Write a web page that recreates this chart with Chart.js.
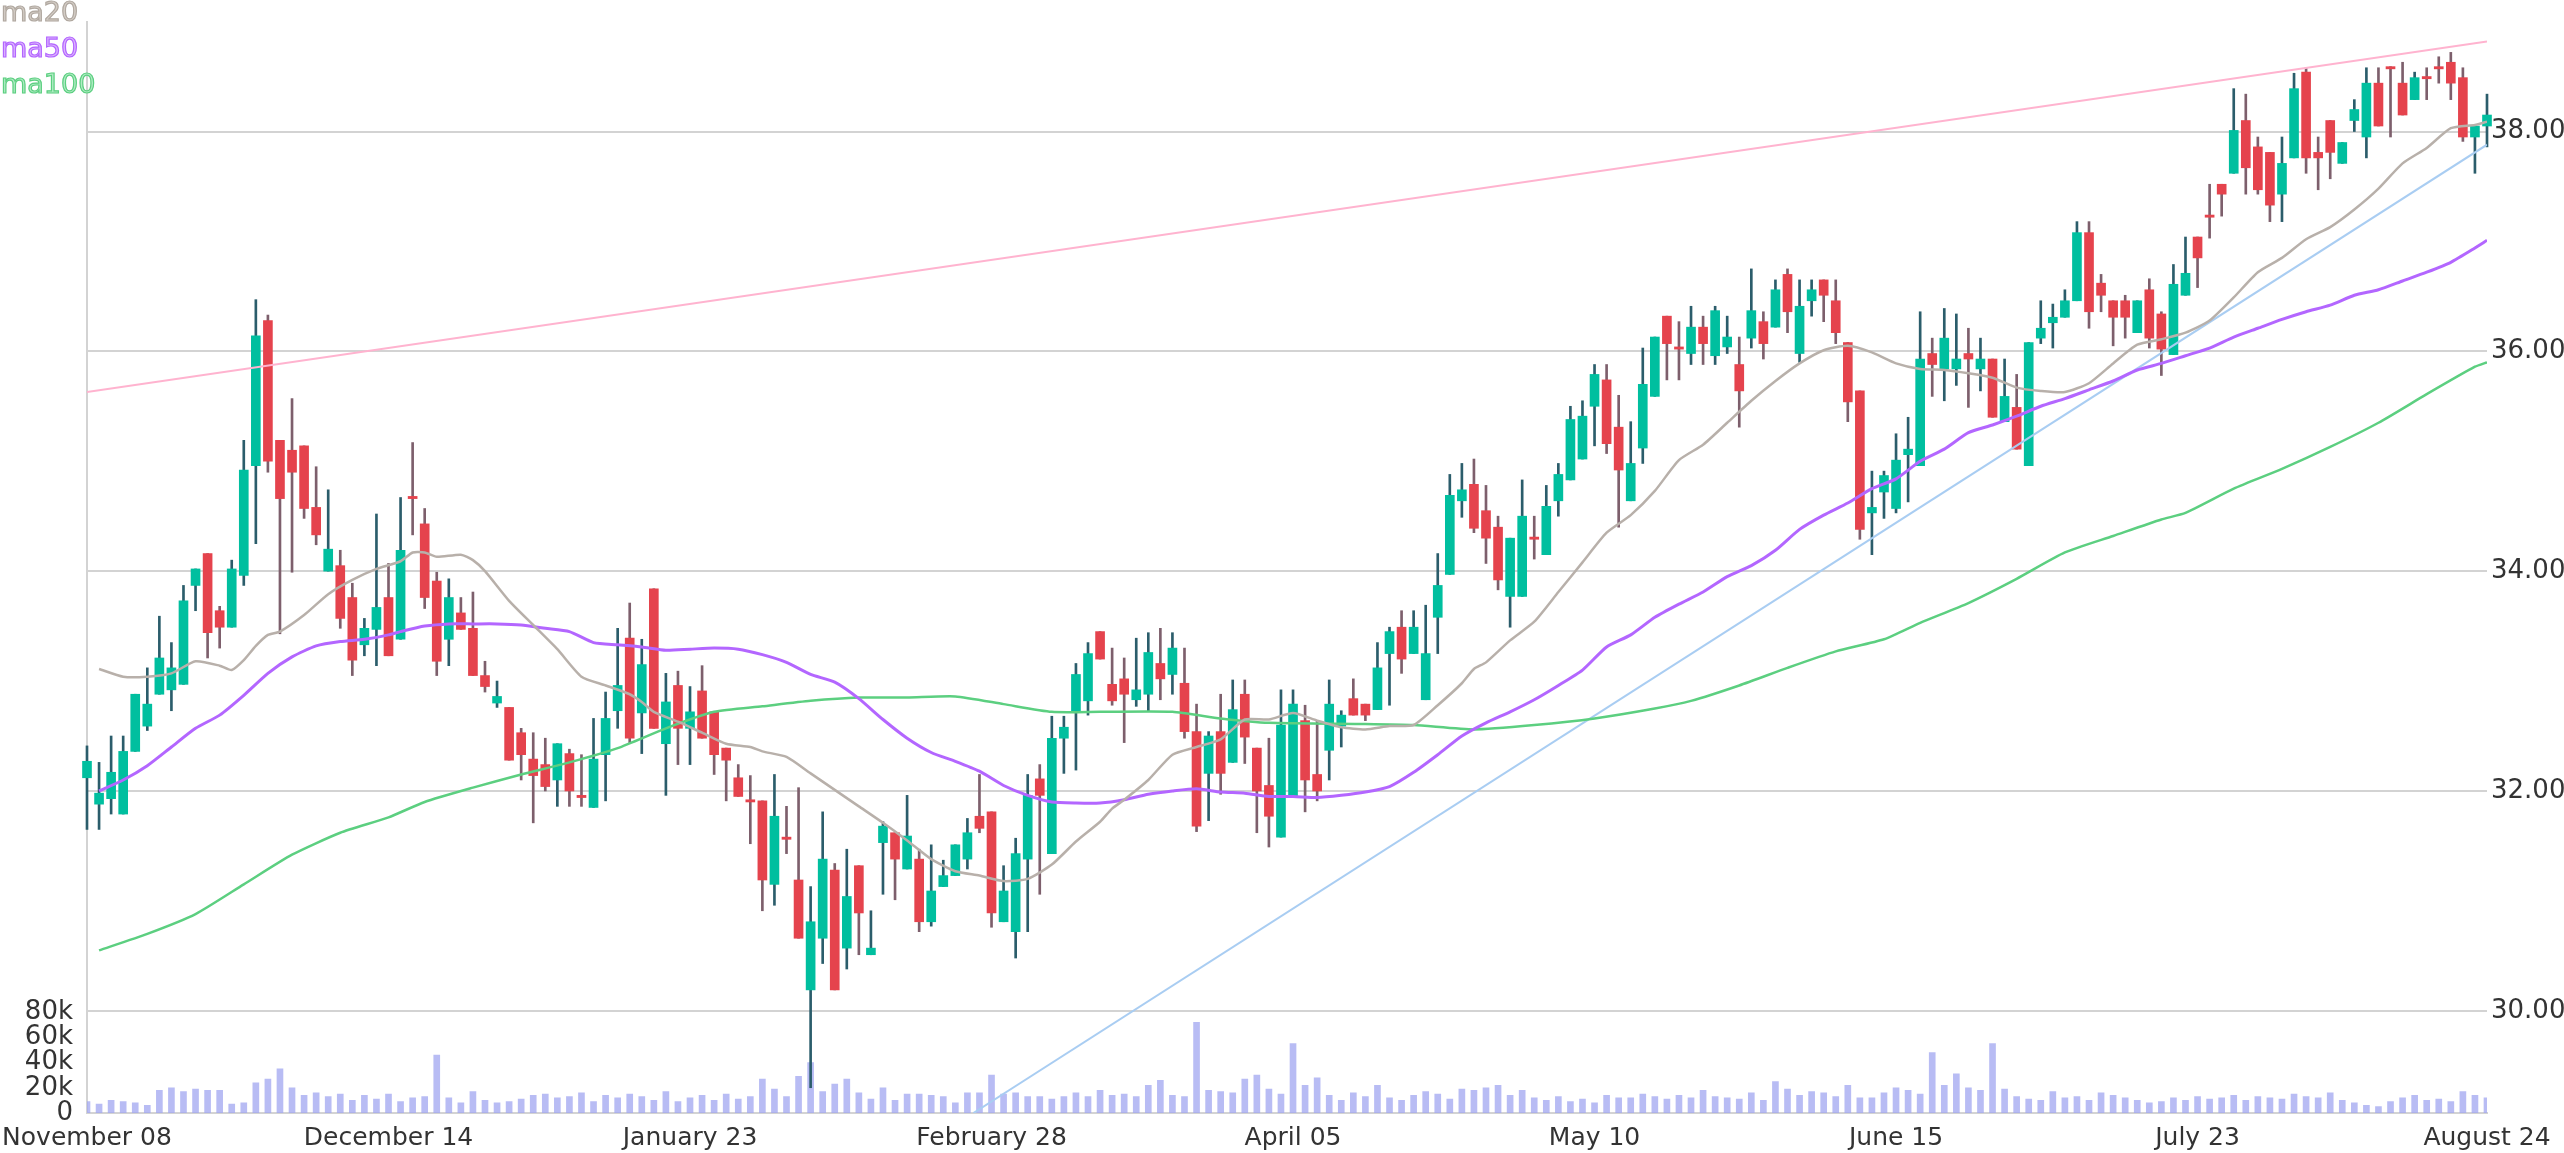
<!DOCTYPE html>
<html><head><meta charset="utf-8">
<script src="https://cdn.jsdelivr.net/npm/chart.js@4.4.1/dist/chart.umd.min.js"></script>
<style>html,body{margin:0;padding:0;background:#fff}#wrap{width:2564px;height:1153px;position:relative}</style>
</head><body><div id="wrap"><canvas id="c" width="2564" height="1153"></canvas></div>
<script>
const openV=[32.12,31.88,31.93,31.79,32.36,32.59,32.88,32.92,32.97,33.87,34.16,33.64,33.49,33.96,34.96,36.28,35.19,35.10,35.14,34.58,34.00,34.05,33.76,33.33,33.47,33.76,33.38,34.68,34.43,33.91,33.38,33.62,33.48,33.05,32.80,32.76,32.53,32.29,32.24,32.10,32.34,31.96,31.85,32.33,32.73,33.39,32.71,33.84,32.43,32.96,32.57,32.91,32.72,32.39,32.12,31.92,31.91,31.15,31.58,31.19,30.19,30.66,31.28,30.57,31.32,30.51,31.53,31.62,31.29,31.38,30.81,31.13,31.23,31.38,31.77,31.81,30.81,30.72,31.38,32.11,31.43,32.48,32.72,32.82,33.45,32.97,33.02,32.83,32.88,33.16,33.06,32.98,32.54,32.16,32.54,32.26,32.88,32.39,32.05,31.58,31.95,32.64,32.15,32.37,32.59,32.84,32.79,32.74,33.25,33.49,33.25,32.83,33.58,33.97,34.64,34.79,34.55,34.40,33.77,33.77,34.31,34.15,34.64,34.83,35.02,35.50,35.74,35.31,34.64,35.12,35.59,36.32,36.04,35.98,36.22,35.96,36.04,35.88,36.12,36.27,36.22,36.70,35.98,36.46,36.65,36.46,36.08,35.64,34.53,34.72,34.57,35.06,34.96,35.98,35.84,35.84,35.98,35.84,35.93,35.36,35.49,34.96,36.12,36.26,36.31,36.46,37.08,36.62,36.46,36.46,36.17,36.56,36.34,35.97,36.51,37.04,37.24,37.52,37.62,38.10,37.86,37.81,37.43,37.76,38.54,37.81,38.10,37.71,38.10,37.95,38.44,38.59,38.44,38.29,38.50,38.59,38.63,38.49,37.95,38.05];
const closeV=[32.27,31.98,32.17,32.36,32.88,32.79,33.21,33.12,33.73,34.02,33.44,33.49,34.02,34.92,36.14,35.00,34.66,34.90,34.57,34.33,34.20,33.57,33.19,33.48,33.67,33.23,34.19,34.66,33.76,33.18,33.76,33.47,33.05,32.95,32.86,32.28,32.33,32.14,32.04,32.43,32.00,31.94,32.29,32.66,32.96,32.48,33.15,32.57,32.81,32.57,32.72,32.48,32.33,32.28,31.95,31.90,31.19,31.77,31.56,30.66,30.81,31.38,30.19,31.04,30.89,30.57,31.68,31.38,31.59,30.81,31.09,31.23,31.51,31.62,31.66,30.89,31.09,31.43,31.96,31.96,32.48,32.58,33.06,33.25,33.20,32.82,32.88,32.92,33.26,33.02,33.30,32.54,31.68,32.50,32.16,32.74,32.49,32.00,31.77,32.60,32.79,32.10,32.00,32.79,32.69,32.69,32.69,33.12,33.45,33.20,33.49,33.25,33.87,34.69,34.74,34.39,34.30,33.92,34.30,34.50,34.29,34.59,34.88,35.38,35.41,35.79,35.16,34.92,34.98,35.70,36.13,36.07,36.02,36.22,36.07,36.37,36.13,35.64,36.37,36.07,36.56,36.36,36.41,36.56,36.51,36.17,35.54,34.38,34.58,34.87,35.01,35.11,35.93,35.88,36.12,35.93,35.93,35.93,35.40,35.59,35.11,36.08,36.21,36.31,36.46,37.08,36.36,36.51,36.31,36.31,36.46,36.12,36.02,36.61,36.71,36.85,37.22,37.43,38.01,37.67,37.47,37.33,37.71,38.39,37.76,37.76,37.81,37.90,38.20,38.44,38.05,38.57,38.15,38.49,38.48,38.57,38.44,37.95,38.05,38.15];
const highV=[32.41,32.26,32.50,32.50,32.88,33.12,33.59,33.35,33.87,34.02,34.16,33.68,34.10,35.19,36.47,36.33,35.19,35.57,35.14,34.95,34.74,34.19,33.89,33.57,34.52,34.07,34.67,35.17,34.57,33.99,33.93,33.76,33.81,33.18,33.00,32.76,32.57,32.53,32.48,32.43,32.38,32.33,32.66,32.90,33.48,33.71,33.38,33.84,33.07,33.09,32.95,33.14,32.72,32.39,32.24,32.14,31.91,32.15,31.86,32.03,31.13,31.81,31.34,31.47,31.32,30.91,31.72,31.62,31.96,31.47,31.51,31.37,31.51,31.75,32.15,31.81,31.32,31.57,32.15,32.24,32.68,32.68,33.16,33.35,33.45,33.30,33.21,33.39,33.44,33.48,33.44,33.30,32.79,32.54,32.88,33.01,33.01,32.39,32.48,32.92,32.92,32.78,32.64,33.01,32.73,33.02,32.79,33.35,33.49,33.64,33.64,33.69,34.16,34.88,34.98,35.02,34.78,34.50,34.30,34.83,34.50,34.78,34.98,35.50,35.55,35.88,35.88,35.60,35.36,36.03,36.13,36.32,36.27,36.41,36.32,36.41,36.32,36.13,36.75,36.36,36.65,36.75,36.65,36.65,36.65,36.65,36.08,35.64,34.91,34.91,35.25,35.40,36.36,36.12,36.39,36.34,36.21,36.12,35.93,35.93,35.79,36.08,36.46,36.43,36.56,37.18,37.18,36.70,36.46,36.51,36.46,36.66,36.36,36.79,37.04,37.04,37.52,37.52,38.39,38.34,37.95,37.81,37.95,38.53,38.58,37.95,38.10,37.90,38.29,38.58,38.58,38.59,38.63,38.54,38.58,38.68,38.72,38.58,38.05,38.34];
const lowV=[31.65,31.65,31.79,31.79,32.36,32.55,32.88,32.73,32.97,33.64,33.21,33.30,33.49,33.87,34.25,34.90,33.43,33.99,34.48,34.24,34.00,33.48,33.05,33.23,33.14,33.23,33.38,34.33,33.66,33.05,33.14,33.47,33.05,32.90,32.76,32.28,32.10,31.71,32.00,31.86,31.86,31.86,31.85,31.91,32.57,32.44,32.34,32.57,31.96,32.24,32.24,32.48,32.15,31.91,31.95,31.52,30.91,30.96,31.43,30.66,29.30,30.43,30.19,30.38,30.51,30.51,31.06,31.01,31.29,30.72,30.77,31.13,31.23,31.29,31.62,30.76,30.81,30.48,30.72,31.06,31.43,32.16,32.19,32.69,33.20,32.78,32.44,32.77,32.73,32.83,32.88,32.48,31.63,31.73,31.97,32.26,32.25,31.62,31.49,31.58,31.95,31.81,31.91,32.10,32.40,32.69,32.64,32.74,32.78,33.07,33.25,32.83,33.25,33.97,34.49,34.35,34.07,33.83,33.49,33.77,34.11,34.15,34.50,34.83,35.02,35.14,35.07,34.40,34.64,34.98,35.59,35.74,35.74,35.88,35.88,35.88,35.98,35.31,36.03,35.93,36.22,36.17,35.90,36.32,36.27,36.07,35.36,34.29,34.15,34.48,34.53,34.63,34.96,35.59,35.55,35.69,35.49,35.64,35.40,35.36,35.11,34.96,36.07,36.03,36.31,36.46,36.21,36.36,36.05,36.12,36.17,36.03,35.78,35.97,36.51,36.58,37.03,37.23,37.62,37.43,37.43,37.18,37.18,37.76,37.62,37.47,37.57,37.71,38.00,37.76,38.05,37.95,38.15,38.29,38.29,38.44,38.29,37.91,37.62,37.86];
const volumeK=[9,7,10,9,8,6,18,20,17,19,18,18,7,8,24,27,35,20,14,16,13,15,10,14,11,15,9,12,13,46,12,8,17,10,8,9,11,14,15,12,13,16,9,14,12,15,13,10,17,9,12,14,10,15,11,13,27,19,13,29,40,17,23,27,16,11,20,10,15,15,14,13,8,16,16,30,15,16,13,13,11,13,16,13,18,14,15,13,22,26,14,13,72,18,17,16,27,30,19,15,55,22,28,14,10,16,13,22,12,10,14,17,15,11,19,18,20,22,14,18,12,10,13,9,11,8,14,12,12,15,13,11,14,12,18,13,12,11,16,10,25,19,14,17,16,13,22,12,12,16,20,18,15,48,22,31,20,18,55,19,13,11,10,17,12,13,10,16,14,12,10,8,9,12,10,13,11,12,14,10,13,12,11,15,13,12,16,10,8,6,5,9,12,14,10,11,9,17,14,12];
const ma20=[[1,33.11],[3,33.04],[5,33.04],[7,33.07],[9,33.18],[11,33.14],[12,33.10],[13,33.19],[14,33.32],[15,33.42],[16,33.45],[18,33.60],[20,33.79],[22,33.92],[24,34.02],[26,34.09],[27,34.17],[28,34.17],[29,34.13],[31,34.15],[32,34.10],[33,34.00],[35,33.73],[37,33.51],[39,33.29],[41,33.04],[43,32.96],[45,32.88],[46,32.81],[47,32.72],[49,32.63],[51,32.53],[53,32.43],[55,32.40],[56,32.36],[58,32.31],[60,32.16],[62,32.01],[64,31.86],[66,31.71],[68,31.55],[70,31.38],[72,31.27],[74,31.23],[76,31.18],[78,31.20],[80,31.33],[82,31.54],[84,31.72],[85,31.84],[86,31.92],[88,32.10],[90,32.33],[92,32.40],[94,32.47],[96,32.65],[98,32.65],[100,32.71],[102,32.64],[104,32.58],[106,32.56],[108,32.59],[110,32.60],[112,32.78],[114,32.98],[115,33.11],[116,33.17],[118,33.37],[120,33.54],[122,33.81],[124,34.08],[126,34.35],[128,34.51],[130,34.73],[132,35.01],[134,35.15],[136,35.35],[138,35.55],[140,35.73],[142,35.89],[144,36.01],[146,36.05],[148,35.99],[150,35.89],[152,35.84],[154,35.83],[156,35.80],[158,35.76],[160,35.67],[162,35.64],[164,35.63],[166,35.71],[168,35.89],[170,36.06],[172,36.11],[174,36.17],[176,36.28],[178,36.49],[180,36.72],[182,36.85],[184,37.02],[186,37.13],[188,37.29],[190,37.48],[192,37.71],[194,37.85],[196,38.03],[198,38.06],[199,38.09]];
const ma50=[[1,32.00],[3,32.10],[5,32.23],[7,32.40],[9,32.57],[11,32.69],[13,32.87],[15,33.07],[17,33.22],[19,33.32],[21,33.36],[23,33.38],[25,33.42],[26,33.45],[28,33.50],[30,33.52],[32,33.52],[34,33.52],[36,33.51],[38,33.48],[40,33.45],[42,33.35],[44,33.33],[46,33.31],[48,33.28],[50,33.29],[52,33.30],[54,33.29],[56,33.24],[58,33.17],[60,33.06],[62,32.99],[64,32.84],[66,32.65],[68,32.48],[70,32.35],[72,32.27],[74,32.18],[76,32.05],[78,31.96],[80,31.90],[82,31.89],[84,31.89],[86,31.92],[88,31.97],[90,32.00],[92,32.02],[94,31.99],[96,31.98],[98,31.95],[100,31.95],[102,31.94],[104,31.96],[106,31.99],[108,32.04],[110,32.17],[112,32.33],[114,32.50],[116,32.62],[118,32.72],[120,32.83],[122,32.96],[124,33.10],[126,33.31],[128,33.42],[130,33.58],[132,33.70],[134,33.81],[136,33.95],[138,34.05],[140,34.19],[142,34.38],[144,34.51],[146,34.62],[148,34.75],[150,34.84],[152,35.00],[154,35.11],[156,35.26],[158,35.33],[160,35.41],[162,35.50],[164,35.57],[166,35.65],[168,35.73],[170,35.83],[172,35.89],[174,35.96],[176,36.03],[178,36.13],[180,36.21],[182,36.29],[184,36.36],[186,36.42],[188,36.51],[190,36.56],[192,36.64],[194,36.72],[196,36.81],[198,36.94],[199,37.01]];
const ma100=[[1,30.55],[5,30.70],[9,30.88],[13,31.15],[17,31.42],[21,31.62],[25,31.76],[28,31.90],[32,32.03],[36,32.15],[40,32.26],[44,32.39],[48,32.57],[52,32.72],[56,32.77],[60,32.82],[64,32.85],[68,32.85],[72,32.86],[76,32.79],[80,32.72],[84,32.72],[90,32.72],[94,32.66],[98,32.62],[106,32.61],[110,32.60],[115,32.56],[120,32.60],[125,32.66],[130,32.75],[133,32.82],[137,32.96],[141,33.12],[145,33.27],[149,33.38],[152,33.53],[156,33.71],[160,33.93],[164,34.17],[168,34.32],[172,34.47],[174,34.53],[178,34.75],[182,34.93],[186,35.13],[190,35.35],[194,35.61],[198,35.86],[199,35.90]];
const resistance=[[0,35.63],[199,38.82]];
const support=[[73.5,29.07],[199,37.88]];
const xTickIdx=[0,25,50,75,100,125,150,175,199];
const xTickLabels=['November 08','December 14','January 23','February 28','April 05','May 10','June 15','July 23','August 24'];
const priceTicks=[30,32,34,36,38];
const volTicks=[0,20000,40000,60000,80000];

const GREEN='#00bf9f',RED='#e5434d';
const isUp=i=>closeV[i]>openV[i];
const pts=a=>a.map(p=>({x:p[0],y:p[1]}));
const font={family:'DejaVu Sans',size:26};
const legendPlugin={id:'leg',afterDraw(ch){const c=ch.ctx;c.save();c.font='27px DejaVu Sans';c.textBaseline='top';c.lineWidth=1.2;
 [['ma20','#d4cdc6','#b0a8a0',0],['ma50','#dcb4ff','#b366ff',36],['ma100','#b0ecc4','#5ccf80',72]].forEach(([t,f,s,y])=>{c.fillStyle=f;c.fillText(t,1,y);c.strokeStyle=s;c.strokeText(t,1,y);});c.restore();}};
new Chart(document.getElementById('c'),{
 data:{datasets:[
  {type:'line',label:'ma20',data:pts(ma20),borderColor:'#b8b0aa',borderWidth:2.5,pointRadius:0,tension:0.2,yAxisID:'y',order:1},
  {type:'line',label:'ma50',data:pts(ma50),borderColor:'#b366ff',borderWidth:3,pointRadius:0,tension:0.2,yAxisID:'y',order:1},
  {type:'line',label:'ma100',data:pts(ma100),borderColor:'#5ccf80',borderWidth:2.5,pointRadius:0,tension:0.2,yAxisID:'y',order:1},
  {type:'line',label:'res',data:pts(resistance),borderColor:'#ffb3cf',borderWidth:2,pointRadius:0,yAxisID:'y',order:1},
  {type:'line',label:'sup',data:pts(support),borderColor:'#a9cdf2',borderWidth:2,pointRadius:0,yAxisID:'y',order:1},
  {type:'bar',label:'body',data:openV.map((o,i)=>({x:i,y:[o,closeV[i]]})),backgroundColor:openV.map((o,i)=>isUp(i)?GREEN:RED),barThickness:9,grouped:false,yAxisID:'y',order:2,minBarLength:2,clip:false},
  {type:'bar',label:'wick',data:lowV.map((l,i)=>({x:i,y:[l,highV[i]]})),backgroundColor:openV.map((o,i)=>isUp(i)?'#2b5d6b':'#7d5f6c'),barThickness:2,grouped:false,yAxisID:'y',order:3,clip:false},
  {type:'bar',label:'vol',data:volumeK.map((v,i)=>({x:i,y:v*1000})),backgroundColor:'rgba(160,165,240,0.75)',barThickness:6,grouped:false,yAxisID:'v',order:4}
 ]},
 options:{responsive:false,animation:false,devicePixelRatio:1,layout:{padding:{top:20,left:0,right:0,bottom:0}},
  plugins:{legend:{display:false},tooltip:{enabled:false}},
  scales:{
   x:{type:'linear',min:0,max:199,offset:false,afterFit(s){s.height=40;s.paddingLeft=0;s.paddingRight=0;},
      afterBuildTicks(s){s.ticks=xTickIdx.map(v=>({value:v}));},
      ticks:{autoSkip:false,maxRotation:0,color:'#333',font:{family:'DejaVu Sans',size:25},padding:2,callback:v=>xTickLabels[xTickIdx.indexOf(v)]||''},
      grid:{display:false},border:{display:true,color:'#d3d3d3',width:2}},
   y:{position:'right',min:29.07,max:39,afterFit(s){s.width=77;},afterBuildTicks(s){s.ticks=priceTicks.map(v=>({value:v}));},
      ticks:{color:'#333',font,padding:4,callback:v=>v.toFixed(2)},
      grid:{color:'#d3d3d3',lineWidth:2,drawTicks:false},border:{display:false}},
   v:{position:'left',min:0,max:866000,afterFit(s){s.width=87;},afterBuildTicks(s){s.ticks=volTicks.map(v=>({value:v}));},
      ticks:{color:'#333',font,padding:6,callback:v=>v===0?'0':(v/1000)+'k'},
      grid:{display:false},border:{display:true,color:'#d3d3d3',width:2}}
  }},
 plugins:[legendPlugin]
});
</script></body></html>
